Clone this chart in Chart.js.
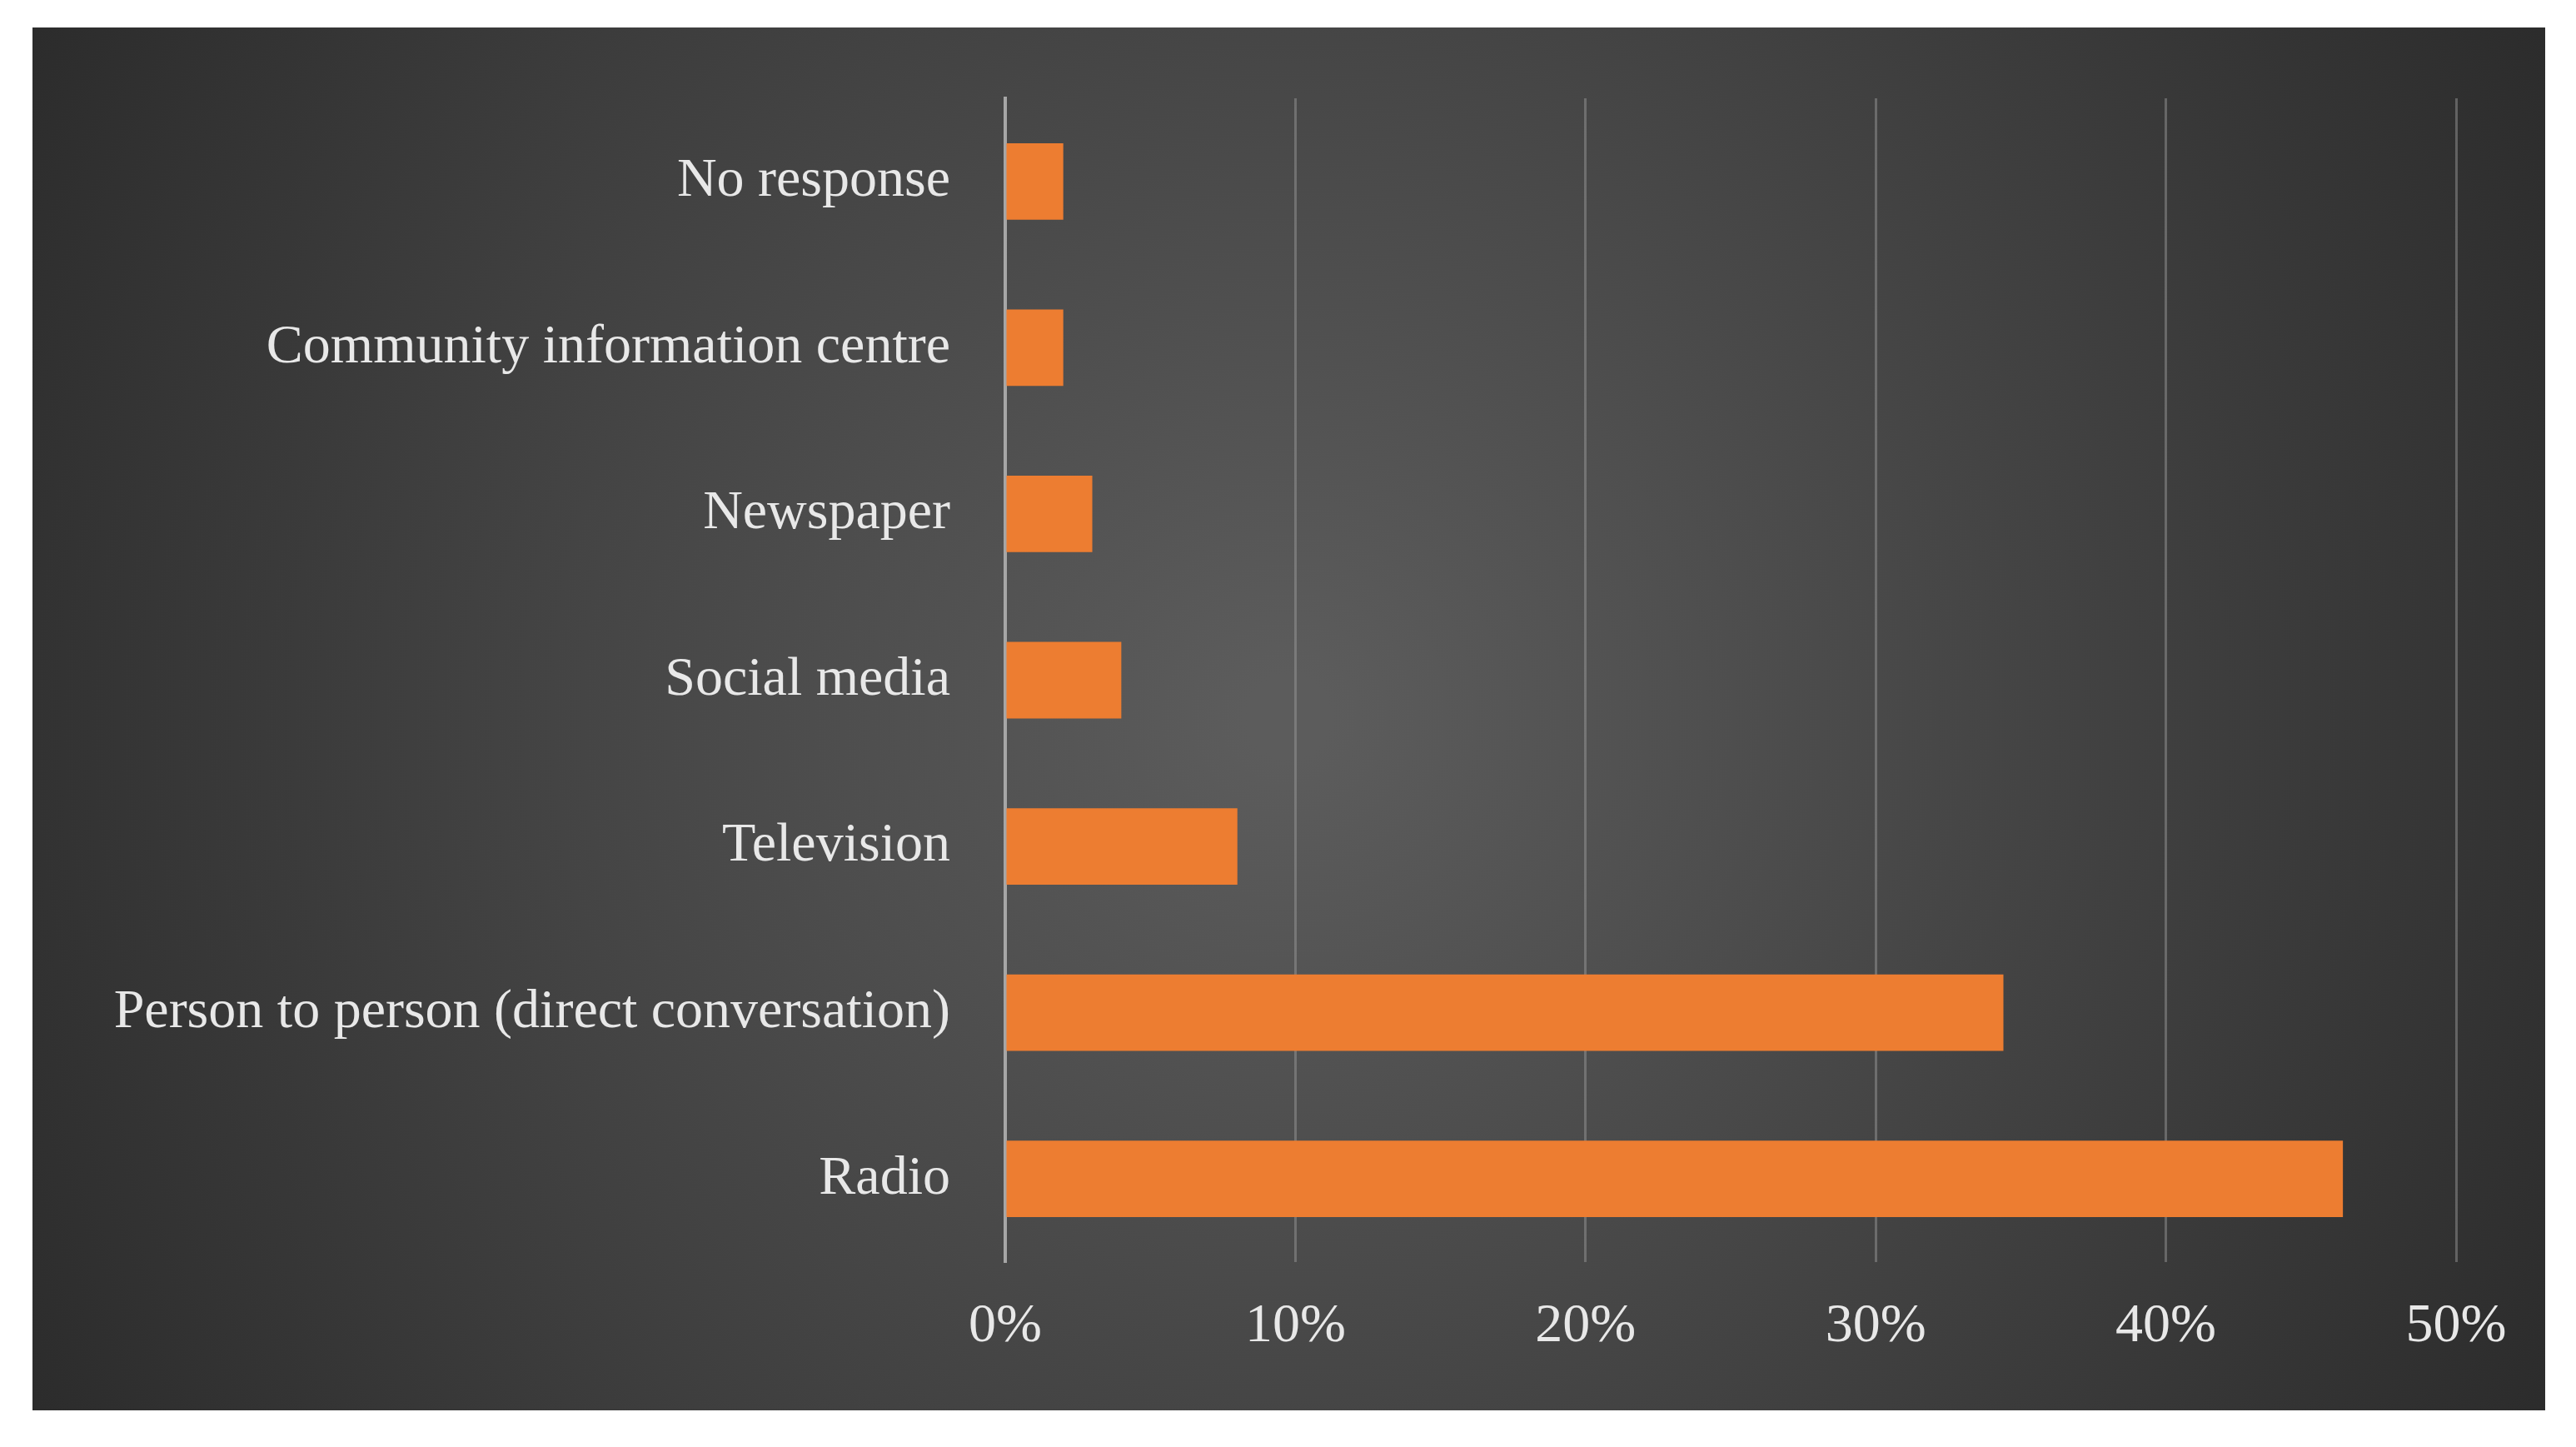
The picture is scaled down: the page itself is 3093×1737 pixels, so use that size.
<!DOCTYPE html>
<html><head><style>html,body{margin:0;padding:0;background:#fff}canvas{display:block}</style>
<script src="https://cdn.jsdelivr.net/npm/chart.js@4"></script></head>
<body><div style="width:3093px;height:1737px"><canvas id="c"></canvas></div>
<script>
const categories=["No response","Community information centre","Newspaper","Social media","Television","Person to person (direct conversation)","Radio"];
const values=[2,2,3,4,8,34.4,46.1];
const tickLabels=["0%","10%","20%","30%","40%","50%"];
const bg={id:'bg',beforeDraw(ch){const c=ch.ctx;c.save();c.fillStyle='#fff';c.fillRect(0,0,ch.width,ch.height);
const g=c.createRadialGradient(1547,860,50,1547,860,1750);g.addColorStop(0,'#5c5c5c');g.addColorStop(1,'#2b2b2b');
c.fillStyle=g;c.fillRect(39,33,3017,1660);c.restore();}};
new Chart(document.getElementById('c'),{type:'bar',plugins:[bg],
data:{labels:categories,datasets:[{data:values,backgroundColor:(ctx)=>{const a=ctx.chart.chartArea;if(!a)return '#ed7d31';return '#ed7d31';},barPercentage:0.46,categoryPercentage:1}]},
options:{indexAxis:'y',responsive:true,maintainAspectRatio:false,animation:false,devicePixelRatio:1,
layout:{padding:{left:0,right:144,top:118,bottom:0}},
plugins:{legend:{display:false},tooltip:{enabled:false}},
scales:{
y:{afterFit(s){s.width=1207;},grid:{display:false},border:{color:'#a6a6a6',width:4},
ticks:{color:'#e8e8e8',padding:58,font:{family:'Liberation Serif',size:66}}},
x:{min:0,max:50,afterFit(s){s.height=222;},grid:{color:'rgba(160,160,160,0.45)',lineWidth:3,drawTicks:false},border:{display:false},
ticks:{stepSize:10,color:'#e8e8e8',padding:38,font:{family:'Liberation Serif',size:66},callback:(v,i)=>tickLabels[i]}}}}});
</script></body></html>
